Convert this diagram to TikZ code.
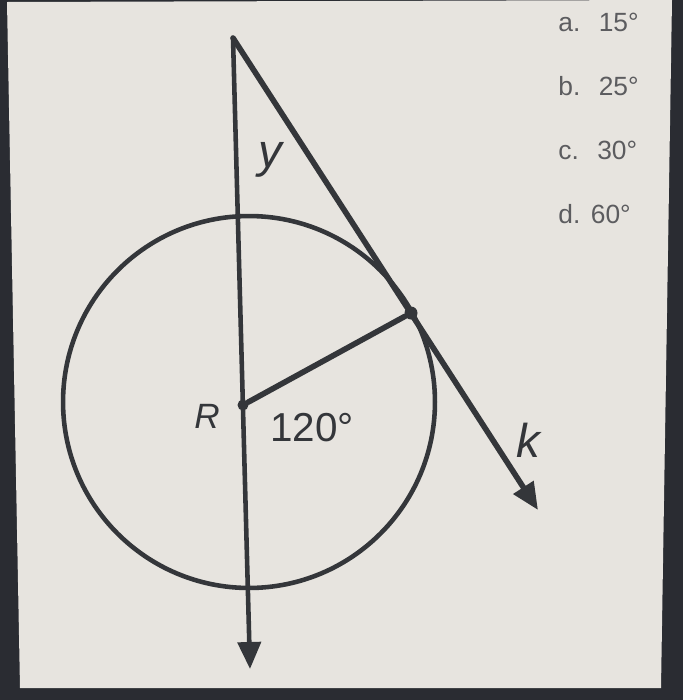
\documentclass[tikz,border=0pt]{standalone}
\usepackage{fontspec}
\setmainfont{Liberation Sans}
\usepackage{tikz}
\usetikzlibrary{arrows.meta, positioning}
\definecolor{ink}{RGB}{52,54,58}
\definecolor{paper}{RGB}{231,228,223}
\definecolor{frame}{RGB}{42,44,50}
\definecolor{greytext}{RGB}{92,92,95}
\tikzstyle{line} = [draw=ink, line width=3.2pt, line cap=round]
\tikzstyle{thinline} = [line, line width=2.6pt]
\tikzstyle{arrow} = [line, -{Triangle[length=0.54cm,width=0.46cm]}]
\tikzstyle{dot} = [circle, fill=ink, inner sep=0pt, minimum size=0.22cm]
\tikzstyle{label} = [inner sep=0pt, text=ink]
\tikzstyle{choice} = [inner sep=0pt, text=greytext, font=\fontsize{15}{15}\selectfont]

\begin{document}
\begin{tikzpicture}[x=0.02cm, y=-0.02cm, node distance=1.28cm]
\useasboundingbox (0,0) rectangle (683,700);
\fill [frame] (0,0) rectangle (683,700);
\fill [paper] (7,2) -- (672,0) -- (661,688) -- (20,688) -- cycle;

% circle and points
\coordinate (center) at (249,402);
\coordinate (apex) at (233,38);
\coordinate (down) at (250,669);
\coordinate (kend) at (538,510);
\draw [thinline] (center) circle (3.72cm);
\node (r) [dot] at (243,405) {};
\node (t) [dot, minimum size=0.26cm] at (411,313) {};

\draw [arrow, line width=2.6pt] (apex) -- (down);
\draw [arrow] (apex) -- (kend);
\draw [line] (r) -- (t);

% labels
\node (ylbl) [label, font=\fontsize{27}{27}\selectfont\itshape] at (270,160) {y};
\node (rlbl) [label, font=\fontsize{20}{20}\selectfont\itshape] at (207,416) {R};
\node (angle) [label, font=\fontsize{23}{23}\selectfont] at (312,428) {120°};
\node (klbl) [label, font=\fontsize{27}{27}\selectfont\itshape] at (528,440) {k};

% answer choices
\node (ansa) [choice, anchor=west] at (558,22) {a.\hspace{0.7em}15°};
\node (ansb) [choice, below=of ansa.west, anchor=west] {b.\hspace{0.7em}25°};
\node (ansc) [choice, below=of ansb.west, anchor=west] {c.\hspace{0.7em}30°};
\node (ansd) [choice, below=of ansc.west, anchor=west] {d.\hspace{0.4em}60°};
\end{tikzpicture}
\end{document}
